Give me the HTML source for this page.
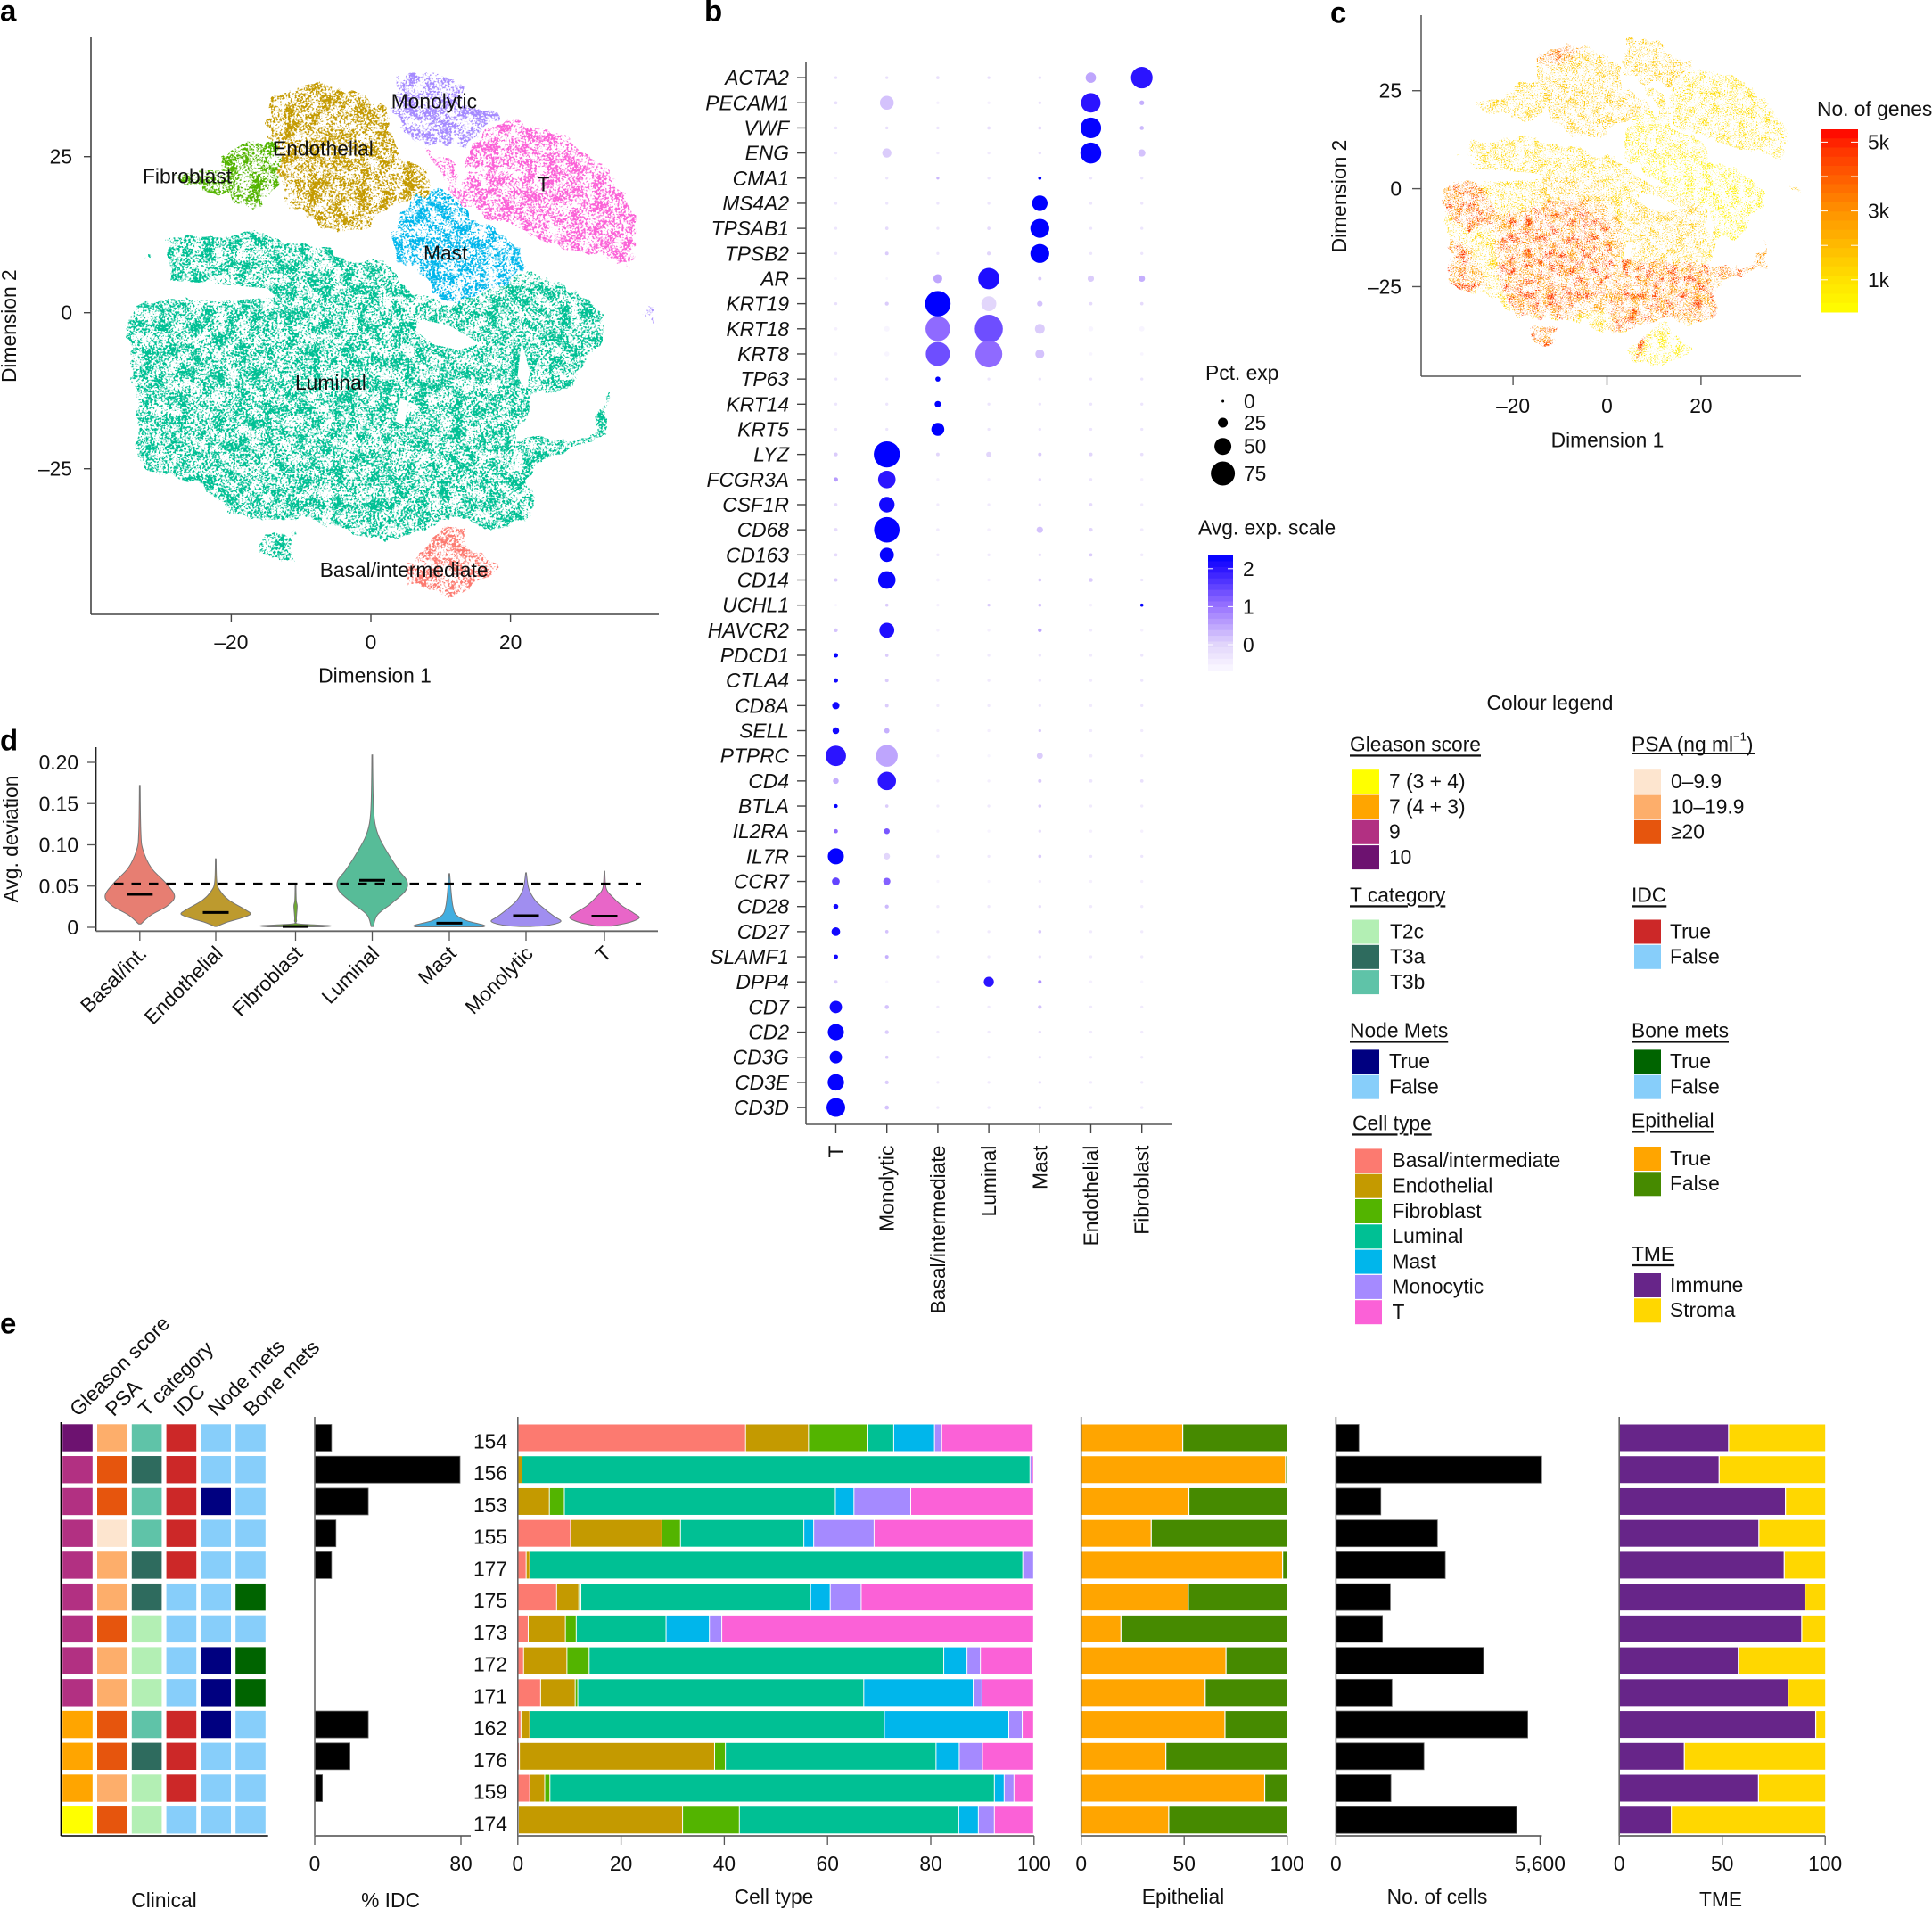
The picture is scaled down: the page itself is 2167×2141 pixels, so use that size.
<!DOCTYPE html>
<html lang="en">
<head>
<meta charset="utf-8">
<title>Single-cell atlas figure</title>
<style>
html,body{margin:0;padding:0;background:#fff;}
svg{display:block;}
text{font-family:"Liberation Sans",Arial,sans-serif;font-size:22.8px;fill:#111;dominant-baseline:central;}
.p{font-weight:bold;font-size:33px;fill:#000;}
.u{text-decoration:underline;}
</style>
</head>
<body>
<svg id="fig" xmlns="http://www.w3.org/2000/svg" width="2167" height="2141" viewBox="0 0 2167 2141">
<defs>
<filter id="speckleA" filterUnits="userSpaceOnUse" x="90" y="30" width="670" height="670" color-interpolation-filters="sRGB">
<feTurbulence type="fractalNoise" baseFrequency="0.07" numOctaves="2" seed="3" result="warp"/>
<feDisplacementMap in="SourceGraphic" in2="warp" scale="16" xChannelSelector="R" yChannelSelector="G" result="rough"/>
<feTurbulence type="fractalNoise" baseFrequency="0.42" numOctaves="2" seed="11" result="grain"/>
<feTurbulence type="fractalNoise" baseFrequency="0.075" numOctaves="2" seed="4" result="blob"/>
<feComposite in="grain" in2="blob" operator="arithmetic" k1="0" k2="0.62" k3="0.38" k4="0" result="mix"/>
<feColorMatrix in="mix" type="matrix" values="0 0 0 0 0 0 0 0 0 0 0 0 0 0 0 0 0 0 10 -4.65" result="mask"/>
<feComposite in="rough" in2="mask" operator="in"/>
</filter>
<filter id="speckleC" filterUnits="userSpaceOnUse" x="1590" y="10" width="440" height="420" color-interpolation-filters="sRGB">
<feTurbulence type="fractalNoise" baseFrequency="0.08" numOctaves="2" seed="5" result="warp"/>
<feDisplacementMap in="SourceGraphic" in2="warp" scale="14" xChannelSelector="R" yChannelSelector="G" result="rough"/>
<feTurbulence type="fractalNoise" baseFrequency="0.7" numOctaves="2" seed="21" result="grain"/>
<feTurbulence type="fractalNoise" baseFrequency="0.1" numOctaves="2" seed="9" result="blob"/>
<feComposite in="grain" in2="blob" operator="arithmetic" k1="0" k2="0.68" k3="0.32" k4="0" result="mix"/>
<feColorMatrix in="mix" type="matrix" values="0 0 0 0 0 0 0 0 0 0 0 0 0 0 0 0 0 0 8 -4.2" result="mask"/>
<feComposite in="rough" in2="mask" operator="in"/>
</filter>
<filter id="speckleHot" filterUnits="userSpaceOnUse" x="1590" y="10" width="440" height="420" color-interpolation-filters="sRGB">
<feTurbulence type="fractalNoise" baseFrequency="0.05" numOctaves="2" seed="14" result="warp"/>
<feDisplacementMap in="SourceGraphic" in2="warp" scale="22" xChannelSelector="R" yChannelSelector="G" result="rough"/>
<feTurbulence type="fractalNoise" baseFrequency="0.75" numOctaves="2" seed="33" result="grain"/>
<feTurbulence type="fractalNoise" baseFrequency="0.11" numOctaves="2" seed="17" result="blob"/>
<feComposite in="grain" in2="blob" operator="arithmetic" k1="0" k2="0.55" k3="0.45" k4="0" result="mix"/>
<feColorMatrix in="mix" type="matrix" values="0 0 0 0 0 0 0 0 0 0 0 0 0 0 0 0 0 0 8 -4.35" result="mask"/>
<feComposite in="rough" in2="mask" operator="in"/>
</filter>
</defs>

<g id="panel-a"></g>
<g id="panel-b"></g>
<g id="panel-c"></g>
<g id="panel-d"></g>
<g id="panel-e"></g>

<g>
<text class="p" x="0" y="12">a</text>
<text class="p" x="790" y="12">b</text>
<text class="p" x="1492" y="14">c</text>
<text class="p" x="0" y="830">d</text>
<text class="p" x="0" y="1484">e</text>
</g>

<g>
<text x="160" y="197.5">Fibroblast</text>
<text x="306" y="166.7">Endothelial</text>
<text x="438.7" y="113.4">Monolytic</text>
<text x="602.5" y="206.5">T</text>
<text x="475" y="283.6">Mast</text>
<text x="331" y="429">Luminal</text>
<text x="358.7" y="639">Basal/intermediate</text>
<text x="420.5" y="757.7" text-anchor="middle">Dimension 1</text>
<text transform="rotate(-90 10 365.7)" x="10" y="365.7" text-anchor="middle">Dimension 2</text>
</g>

<g>
<text x="1803" y="493.5" text-anchor="middle">Dimension 1</text>
<text transform="rotate(-90 1502 220)" x="1502" y="220" text-anchor="middle">Dimension 2</text>
<text x="2038" y="122">No. of genes</text>
</g>

<g>
<text x="1352" y="418">Pct. exp</text>
<text x="1344" y="591.7">Avg. exp. scale</text>
</g>

<g>
<text transform="rotate(-90 12 941)" x="12" y="941" text-anchor="middle">Avg. deviation</text>
</g>

<g>
<text x="184" y="2131" text-anchor="middle">Clinical</text>
<text x="438" y="2131" text-anchor="middle">% IDC</text>
<text x="868" y="2127" text-anchor="middle">Cell type</text>
<text x="1327" y="2127" text-anchor="middle">Epithelial</text>
<text x="1612" y="2127" text-anchor="middle">No. of cells</text>
<text x="1930" y="2130" text-anchor="middle">TME</text>
</g>

<g transform="translate(0,-0.7)">
<text x="1738.5" y="788.7" text-anchor="middle">Colour legend</text>

<text class="u" x="1514" y="835">Gleason score</text>
<g>
<rect x="1517" y="863.9" width="30" height="27" fill="#FFFF00"/><text x="1558" y="876.7">7 (3 + 4)</text>
<rect x="1517" y="892.2" width="30" height="27" fill="#FFA500"/><text x="1558" y="905">7 (4 + 3)</text>
<rect x="1517" y="920.5" width="30" height="27" fill="#B23082"/><text x="1558" y="933.3">9</text>
<rect x="1517" y="948.8" width="30" height="27" fill="#6D1270"/><text x="1558" y="961.6">10</text>
</g>

<text class="u" x="1514" y="1004">T category</text>
<g>
<rect x="1517" y="1032.2" width="30" height="27" fill="#B3EFB4"/><text x="1559" y="1045">T2c</text>
<rect x="1517" y="1060.5" width="30" height="27" fill="#2E6B5E"/><text x="1559" y="1073.3">T3a</text>
<rect x="1517" y="1088.8" width="30" height="27" fill="#5FC3A8"/><text x="1559" y="1101.6">T3b</text>
</g>

<text class="u" x="1514" y="1156">Node Mets</text>
<g>
<rect x="1517" y="1178.1" width="30" height="27" fill="#000080"/><text x="1558" y="1190.9">True</text>
<rect x="1517" y="1206.4" width="30" height="27" fill="#87CEFA"/><text x="1558" y="1219.2">False</text>
</g>

<text class="u" x="1517" y="1260">Cell type</text>
<g>
<rect x="1520" y="1289.1" width="30" height="27" fill="#FC7A70"/><text x="1561.5" y="1301.9">Basal/intermediate</text>
<rect x="1520" y="1317.4" width="30" height="27" fill="#C49A00"/><text x="1561.5" y="1330.2">Endothelial</text>
<rect x="1520" y="1345.7" width="30" height="27" fill="#53B400"/><text x="1561.5" y="1358.5">Fibroblast</text>
<rect x="1520" y="1374" width="30" height="27" fill="#00C094"/><text x="1561.5" y="1386.8">Luminal</text>
<rect x="1520" y="1402.3" width="30" height="27" fill="#00B6EB"/><text x="1561.5" y="1415.1">Mast</text>
<rect x="1520" y="1430.6" width="30" height="27" fill="#A58AFF"/><text x="1561.5" y="1443.4">Monocytic</text>
<rect x="1520" y="1458.9" width="30" height="27" fill="#FB61D7"/><text x="1561.5" y="1471.7">T</text>
</g>

<text x="1830" y="835">PSA (ng ml<tspan dy="-9" font-size="13">−1</tspan><tspan dy="9">)</tspan></text>
<line x1="1830" y1="846" x2="1969" y2="846" stroke="#111" stroke-width="1.4"/>
<g>
<rect x="1833" y="863.9" width="30" height="27" fill="#FDE5CF"/><text x="1874" y="876.7">0–9.9</text>
<rect x="1833" y="892.2" width="30" height="27" fill="#FDAE6B"/><text x="1874" y="905">10–19.9</text>
<rect x="1833" y="920.5" width="30" height="27" fill="#E6550D"/><text x="1874" y="933.3">≥20</text>
</g>

<text class="u" x="1830" y="1004">IDC</text>
<g>
<rect x="1833" y="1032.2" width="30" height="27" fill="#CC2828"/><text x="1873" y="1045">True</text>
<rect x="1833" y="1060.5" width="30" height="27" fill="#87CEFA"/><text x="1873" y="1073.3">False</text>
</g>

<text class="u" x="1830" y="1156">Bone mets</text>
<g>
<rect x="1833" y="1178.1" width="30" height="27" fill="#006400"/><text x="1873" y="1190.9">True</text>
<rect x="1833" y="1206.4" width="30" height="27" fill="#87CEFA"/><text x="1873" y="1219.2">False</text>
</g>

<text class="u" x="1830" y="1257">Epithelial</text>
<g>
<rect x="1833" y="1286.7" width="30" height="27" fill="#FFA500"/><text x="1873" y="1299.5">True</text>
<rect x="1833" y="1315" width="30" height="27" fill="#468A00"/><text x="1873" y="1327.8">False</text>
</g>

<text class="u" x="1830" y="1406.6">TME</text>
<g>
<rect x="1833" y="1428.7" width="30" height="27" fill="#672589"/><text x="1873" y="1441.5">Immune</text>
<rect x="1833" y="1457" width="30" height="27" fill="#FFD700"/><text x="1873" y="1469.8">Stroma</text>
</g>
</g>
</svg>

<script>
/* ---------- shared cell-type palette ---------- */
const cellTypes = ['Basal/intermediate','Endothelial','Fibroblast','Luminal','Mast','Monocytic','T'];
const cellColors = ['#FC7A70','#C49A00','#53B400','#00C094','#00B6EB','#A58AFF','#FB61D7'];

/* ---------- t-SNE cluster regions (data units, Dimension 1, Dimension 2) ---------- */
const regionEndothelial = [[-13.5,34.8],[-8.6,36.9],[-3.6,35.5],[-.5,34],[2,33],[2.9,28.7],[4.5,24.5],[7.9,23],[8.8,19.5],[4.5,17.4],[1.4,16],[-.5,13.5],[-3.6,13.1],[-7.3,13.8],[-9.8,16],[-12,17.4],[-12.9,21.6],[-14.2,25.2],[-15.1,30.9]];
const regionFibroblast = [[-28.5,22.2],[-21.6,23],[-21,25.2],[-17.3,27.3],[-13.5,27.3],[-12.9,22.7],[-13.5,20.2],[-15.4,17.4],[-17.9,17],[-20.4,18.8],[-22.9,19.3],[-26,20]];
const regionMonolytic = [[3.7,37.9],[7.9,38.7],[12,37.3],[14.1,33.3],[18.8,31.9],[15,28.7],[13.1,25.9],[11.2,27.3],[8.2,26.6],[6.3,28.1],[4.5,29.4],[2.9,33],[4.5,35.8]];
const regionMonolyticIslet = [[39.3,1.1],[40.5,1.1],[40.4,-1.4],[39.3,0]];
const regionT = [[19.4,30.9],[27.5,28.4],[29.3,27],[34.9,21.3],[38,15.6],[37.7,8.2],[36.8,7.4],[32.4,9.6],[27.5,9.9],[24.3,11.7],[20.9,13.8],[16.8,15.2],[12.9,17.4],[13.5,24.5],[15,28]];
const regionTSmall = [[8,26],[12,24],[13,18],[11,20],[9.5,23.5]];
const regionMast = [[8.8,19.9],[12.5,18.8],[13.8,15.2],[17.5,13.8],[21.2,10.3],[21.9,7.4],[19.4,4.6],[15,3.2],[12.5,1.4],[8.8,3.2],[7.6,6],[3.9,8.2],[2.9,11.7],[4.5,15.9],[7,18.8]];
const regionBasal = [[11.3,-34],[13.5,-34.4],[14.1,-38],[16,-38.7],[18.1,-40.8],[16.9,-42.6],[13.2,-44.3],[10.1,-45.4],[7.9,-43.6],[5.4,-43.6],[4.8,-40.8],[7.9,-38.3],[9.5,-35.8]];
const regionLuminal = [[-29.4,11.7],[-21,12.4],[-16.6,13.3],[-12.3,11.3],[-5.5,9.9],[-3,8.2],[1.4,8.5],[2.9,7.4],[4.5,4.6],[7,2.5],[11.3,1.1],[15,2.8],[19.4,4.6],[22.2,7.1],[27.5,4.6],[31.2,1.8],[33.4,-.4],[33.4,-4.6],[30.6,-7.4],[28.7,-11.7],[26.8,-12.8],[23.4,-12.4],[22.8,-16.7],[21.2,-18.1],[20.9,-20.9],[24.3,-24.1],[22.2,-27],[23.7,-30.1],[22.2,-33],[16.9,-34.8],[13.8,-33],[11.3,-33],[7.6,-34.4],[3.2,-36.7],[-1.7,-36.2],[-4.2,-34],[-9.8,-33],[-17.3,-33],[-21.6,-30.9],[-24.1,-27.3],[-30.9,-26.2],[-33.7,-23],[-33.1,-16],[-34.3,-8.9],[-34.3,-6],[-35.2,-2.1],[-33.4,1.4],[-26,1.8],[-28.8,6]];
const regionLuminalIsland = [[-15.1,-35.5],[-11.1,-35.5],[-12,-37.9],[-10.8,-39.7],[-13.5,-39.7],[-16,-38.3]];
const regionLuminalTail = [[34,-13],[33.7,-16],[33.4,-18.4],[34,-19.9],[30,-20.9],[27.5,-22.3],[25,-23.4],[24,-24.1],[21.5,-22.3],[21.2,-20.2],[25,-19.9],[29.3,-20.2],[32.4,-18.8],[32,-17],[33.4,-15],[33.7,-13]];
const regionLuminalIslet = [[-32.2,9.2],[-31.2,8.9],[-31.6,8.2],[-32.6,8.6]];
const gapRegions = [
  [[7.3,-1.1],[11.3,-2.1],[15.7,-4.96],[12.5,-6],[8.8,-5],[6.3,-2.8]],
  [[21.6,-4.6],[22.8,-9.6],[22.2,-12.4],[21,-10.2]],
  [[-30,5.3],[-22.2,4.6],[-14.8,3.9],[-13.5,2.5],[-22.2,1.8],[-26,2.1]],
  [[4.2,-13.8],[5.4,-14.2],[4.8,-18.1],[3.5,-17.4]]
];
const clusterRegions = [regionLuminal,regionLuminalIsland,regionLuminalTail,regionLuminalIslet,regionBasal,regionEndothelial,regionFibroblast,regionT,regionTSmall,regionMonolytic,regionMonolyticIslet,regionMast];
const clusterIndex = [3,3,3,3,0,1,2,6,6,5,5,4];
const clusterNames = ['luminal','luminal-island','luminal-tail','luminal-islet','basal','endothelial','fibroblast','t','t-small','monolytic','monolytic-islet','mast'];
const clusterGenes = [1300,3000,3000,1000,900,1700,1500,1100,1300,1700,1800,800];

/* gene-count zones of panel c, typical genes per zone */
const zoneGenes = [3000,3000,2800,2800,1700,2600,500,3000,600,1800];
const zoneRegions = [
  [[-15.5,33],[-14,36],[-9,37.6],[-4,36],[-8,33],[-13,31]],
  [[-35.5,3.6],[-28,3],[-24,-5],[-22,-10],[-30,-10],[-35.5,-5]],
  [[-24,-8],[-15,-4],[-4,-2],[3,-8],[3,-24],[1,-30],[-8,-33],[-20,-32],[-24,-20]],
  [[-34.5,-12],[-30,-14],[-25,-25],[-32,-26],[-34.5,-20]],
  [[3,-4],[20,-4],[20,-18],[5,-20]],
  [[4,-18],[24,-19],[24,-34],[10,-34],[0,-37],[0,-28]],
  [[6,8],[22,8],[34,2],[34,-12],[24,-14],[21,-4],[12,0]],
  [[21,-19],[34,-17],[34,-21],[25,-25]],
  [[8.5,-38],[16,-38],[18,-41],[14,-46],[9,-46]],
  [[3,-5],[-3,3],[-14,3],[-16,-3],[-5,-3]]
];
/* high-count cells that sit on top of the zones */
const hotGenes = [4300,4900,4900,4900,4700,4600,4600,4500];
const hotRegions = [
  [[-15.5,33],[-14,36],[-9,37.6],[-6,35.5],[-12,32]],
  [[-35.5,3.6],[-28,3],[-24,-5],[-24,-10],[-30,-10],[-35.5,-5]],
  [[-22,-8],[-15,-4],[-6,-3],[0,-8],[1,-24],[-4,-28],[-10,-33],[-20,-32],[-24,-20]],
  [[-34.5,-12],[-31,-14],[-27,-25],[-32,-26],[-34.5,-20]],
  [[4,-18],[22,-20],[24,-32],[12,-34],[2,-36],[0,-28]],
  [[21,-19],[32,-17.5],[32,-21],[25,-25]],
  [[3,-38],[9,-38],[6,-44],[3.5,-44]],
  [[-16,-35],[-10,-35],[-10,-40],[-16,-40]]
];

/* ---------- panel b ---------- */
const genes = ['ACTA2','PECAM1','VWF','ENG','CMA1','MS4A2','TPSAB1','TPSB2','AR','KRT19','KRT18','KRT8','TP63','KRT14','KRT5','LYZ','FCGR3A','CSF1R','CD68','CD163','CD14','UCHL1','HAVCR2','PDCD1','CTLA4','CD8A','SELL','PTPRC','CD4','BTLA','IL2RA','IL7R','CCR7','CD28','CD27','SLAMF1','DPP4','CD7','CD2','CD3G','CD3E','CD3D'];
const dotCategories = ['T','Monolytic','Basal/intermediate','Luminal','Mast','Endothelial','Fibroblast'];
const pctExp = [
[1,1,2,1,1,27,66],[2,39,1,1,1,59,7],[1,1,1,2,2,63,5],[1,23,1,1,1,64,16],[0,1,1,1,2,1,1],[1,1,1,1,45,1,1],[1,2,1,2,57,1,1],[1,3,1,4,57,1,1],
[0,0,22,65,3,13,13],[1,4,80,43,10,2,2],[2,10,77,89,25,8,9],[2,8,75,85,22,2,2],[1,1,8,1,1,1,1],[1,1,13,1,1,1,1],[1,1,36,1,1,1,1],
[4,82,3,9,3,3,2],[6,52,1,1,1,1,1],[2,45,1,1,1,2,1],[3,80,2,2,13,4,2],[2,40,1,1,1,2,1],[3,52,2,1,2,5,1],[0,2,1,1,2,1,2],[4,43,1,1,4,1,1],
[6,2,1,1,1,1,1],[6,3,1,1,1,1,1],[16,3,1,1,1,1,1],[14,9,1,1,1,1,1],[62,67,1,1,12,2,1],[11,55,1,1,3,2,2],[4,2,1,1,2,1,1],[5,11,1,1,1,1,1],
[47,13,2,1,2,1,1],[18,16,1,1,1,1,1],[8,4,1,1,1,1,1],[21,2,1,1,2,1,1],[6,3,1,1,1,1,1],[3,1,1,26,3,1,1],[34,5,1,1,4,1,1],[47,4,1,1,1,1,1],
[34,2,1,1,1,1,1],[48,4,1,1,1,1,1],[56,5,1,1,1,1,1]];
const avgExp = [
[-.2,-.2,-.2,-.2,-.2,.5,2],[-.2,.2,-.5,-.5,-.2,2,.4],[-.3,-.2,-.3,-.2,-.1,2.3,.3],[-.3,.1,-.4,-.4,-.2,2.3,.2],[-.5,-.3,.3,-.3,2.34,-.3,-.3],[-.3,-.3,-.3,-.3,2.34,-.3,-.3],[-.3,-.1,-.3,-.1,2.34,-.3,-.3],[-.3,.1,-.3,0,2.34,-.3,-.3],
[-.6,-.6,.5,2.1,.1,.1,.4],[-.2,.1,2.34,0,.2,-.1,-.1],[-.5,-.6,1.1,1.4,.1,-.6,-.6],[-.5,-.6,1.4,1.1,.2,-.6,-.6],[-.3,-.3,2.34,-.3,-.3,-.3,-.3],[-.3,-.3,2.34,-.3,-.3,-.3,-.3],[-.3,-.3,2.34,-.3,-.3,-.3,-.3],
[.1,2.34,0,0,.1,0,-.2],[.6,2,-.5,-.5,-.1,-.3,-.5],[-.1,2.2,-.4,-.4,-.2,-.1,-.4],[-.1,2.3,-.4,-.5,.2,0,-.4],[-.1,2.3,-.4,-.4,-.2,.1,-.4],[.1,2.25,-.5,-.5,.1,.1,-.3],[-.6,.1,-.5,.1,.2,-.5,2.3],[.2,2.1,-.5,-.5,.5,-.4,-.5],
[2.3,.1,-.4,-.4,-.3,-.4,-.3],[2.2,.1,-.4,-.4,-.3,-.4,-.3],[2.2,.1,-.4,-.4,-.3,-.4,-.3],[2.2,.4,-.5,-.5,.1,-.4,-.4],[2,.5,-.5,-.6,.1,-.4,-.4],[.4,2,-.5,-.5,.1,-.3,-.2],[2.3,.1,-.4,-.4,.1,-.4,-.4],[1.1,1.3,-.6,-.6,-.2,-.5,-.5],
[2.3,0,-.3,-.4,.1,-.3,-.3],[1.5,1.2,-.6,-.6,-.4,-.5,-.5],[2.2,.3,-.4,-.4,-.2,-.4,-.4],[2.2,.2,-.4,-.4,.1,-.4,-.4],[2.2,.4,-.4,-.4,-.2,-.4,-.4],[.1,-.6,-.5,2,.7,-.5,-.6],[2.2,.2,-.4,-.4,.2,-.4,-.4],[2.3,.1,-.4,-.4,-.2,-.4,-.4],
[2.3,.1,-.4,-.4,-.2,-.4,-.4],[2.3,.1,-.4,-.4,-.2,-.4,-.4],[2.3,.2,-.4,-.4,-.2,-.4,-.4]];
const pctLegendValues = [0,25,50,75];
const expTickValues = [2,1,0];
const geneTickValues = [5000,4000,3000,2000,1000];
const geneTickLabels = ['5k','','3k','','1k'];

/* ---------- panel d ---------- */
const violinNames = ['Basal/int.','Endothelial','Fibroblast','Luminal','Mast','Monolytic','T'];
const violinFill = ['#E77E72','#BD9A2E','#6EAB2E','#57BC98','#42AEE0','#A08EF0','#E866C8'];
const violinMedian = [.04,.018,.001,.057,.005,.014,.0135];
const deviationThreshold = [.0525];
const devTicks = [0,.05,.10,.15,.20];
const devTickLabels = ['0','0.05','0.10','0.15','0.20'];
const violinValues = [
[.172,.115,.094,.072,.054,.038,.026,.015,.004],
[.083,.055,.044,.033,.022,.016,.011,.006,.001],
[.053,.033,.026,.015,.008,.004,.002,.0005],
[.209,.151,.126,.108,.087,.069,.056,.044,.029,.015,.001],
[.065,.044,.026,.015,.008,.0025,.0005],
[.066,.047,.033,.022,.013,.007,.0025,.001],
[.068,.047,.037,.026,.017,.0115,.006,.0015]];
const violinDensity = [
[1,3,9,33,74,100,79,33,3],
[1,3,13,38,82,100,72,31,3],
[1,2,5,3,3,10,100,77],
[1,3,8,21,49,77,100,95,56,15,3],
[1,5,10,20,50,100,97],
[1,8,26,54,82,100,64,15],
[1,5,23,51,85,100,72,21]];

/* ---------- panel e ---------- */
const samples = ['154','156','153','155','177','175','173','172','171','162','176','159','174'];
const gleason = ['10','9','9','9','9','9','9','9','9','7b','7b','7b','7a'];
const psaClass = ['mid','high','high','low','mid','mid','high','mid','mid','high','high','mid','high'];
const tCategory = ['T3b','T3a','T3b','T3b','T3a','T3a','T2c','T2c','T2c','T3b','T3a','T2c','T2c'];
const idcFlag = [1,1,1,1,1,0,0,0,0,1,1,1,0];
const nodeFlag = [0,0,1,0,0,0,0,1,1,1,0,0,0];
const boneFlag = [0,0,0,0,0,1,0,1,1,0,0,0,0];
const clinicalHeaders = ['Gleason score','PSA','T category','IDC','Node mets','Bone mets'];
const pctIdc = [9.2,79.5,29.3,11.6,9.2,0,0,0,0,29.3,19.3,4.2,0];
const cellTypeShare = [
[44.2,12.2,11.5,5,7.9,1.4,17.7],
[0,.9,0,98.4,0,.4,.3],
[0,6.2,2.9,52.5,3.6,11,23.8],
[10.3,17.7,3.6,23.9,1.9,11.7,30.9],
[1.7,.7,0,95.5,0,2.1,0],
[7.6,4.3,.4,44.5,3.8,6,33.4],
[2.1,7.2,2.1,17.4,8.4,2.4,60.4],
[1.2,8.4,4.3,68.7,4.5,2.6,10],
[4.5,6.7,.5,55.4,21.2,1.7,10],
[.7,1.7,0,68.7,24.1,2.6,2.2],
[.4,37.8,2.1,40.8,4.5,4.5,9.9],
[2.4,2.9,1,86.1,1.9,1.9,3.8],
[.2,31.8,11,42.5,3.8,3.1,7.6]];
const epithelialTrue = [49.3,99.2,52.3,34,97.8,52,19.3,70.3,60.2,69.8,41.1,89.1,42.5];
const cellCounts = [631,5646,1231,2785,3000,1492,1277,4046,1538,5262,2415,1508,4954];
const immuneShare = [53.1,48.5,80.7,67.8,80.1,90.2,88.6,57.8,82,95.4,31.6,67.6,25.3];
const pctTicks = [0,50,100];
const cellTypeTicks = [0,20,40,60,80,100];
const idcTicks = [0,80];
const countTicks = [0,5600];
const countTickLabels = ['0','5,600'];

/* ---------- axis functions ---------- */
const aX = v => 416 + 7.83 * v;
const aY = v => 350.7 - 7.0 * v;
const cX = v => 1802.5 + 5.27 * v;
const cY = v => 211.6 - 4.395 * v;
const dotRow = i => 87.1 + 28.17 * i;
const dotCol = j => 937.5 + 57.2 * j;
const dotDiameter = p => 3 + 0.32 * p;
const dY = v => 1040 - 925 * v;
const violinCenter = i => [156.8,242,331.5,417.5,504,590,678][i];
const rowY = i => 1612.5 + 35.73 * i;
const idcX = v => 353 + 2.05 * v;
const typeX = v => 580.8 + 5.79 * v;
const epiX = v => 1212.7 + 2.31 * v;
const countX = v => 1498.4 + v * 229 / 5600;
const tmeX = v => 1816.2 + 2.31 * v;
const geneBarY = v => 313.8 - (v - 1000) * 0.0386;
const expBarY = v => 723 - 42.6 * v;

/* ---------- helpers ---------- */
const NS = 'http://www.w3.org/2000/svg';
function mk(tag, attrs, parent) {
  const el = document.createElementNS(NS, tag);
  for (const k in attrs) el.setAttribute(k, attrs[k]);
  parent.appendChild(el);
  return el;
}
function named(el, name, click) {
  
  
  return el;
}
function hex(c) { return [parseInt(c.slice(1,3),16),parseInt(c.slice(3,5),16),parseInt(c.slice(5,7),16)]; }
function ramp(stops, v) {
  if (v <= stops[0][0]) return stops[0][1];
  for (let i = 1; i < stops.length; i++) {
    if (v <= stops[i][0]) {
      const t = (v - stops[i-1][0]) / (stops[i][0] - stops[i-1][0]);
      const a = hex(stops[i-1][1]), b = hex(stops[i][1]);
      return 'rgb(' + a.map((x,n) => Math.round(x + (b[n]-x)*t)).join(',') + ')';
    }
  }
  return stops[stops.length-1][1];
}
const expStops = [[-.67,'#FBF9FF'],[0,'#E2D6FB'],[1,'#9A74FF'],[2,'#2B14FF'],[2.34,'#0000FF']];
const geneStops = [[0,'#FFFF00'],[1000,'#FFE100'],[3000,'#FF9600'],[5000,'#FF3200'],[5600,'#FF0000']];
const pts = (poly, fx, fy) => poly.map(p => fx(p[0]).toFixed(1) + ',' + fy(p[1]).toFixed(1)).join(' ');
function line(parent, x1, y1, x2, y2, color, w, name) {
  const el = mk('line', {x1:x1, y1:y1, x2:x2, y2:y2, stroke:color, 'stroke-width':w}, parent);
  named(el, name);
  return el;
}
function label(parent, str, x, y, anchor, name, extra) {
  const el = mk('text', Object.assign({x:x, y:y, 'text-anchor':anchor}, extra || {}), parent);
  el.textContent = str;
  named(el, name);
  return el;
}

/* ---------- panel a ---------- */
(function () {
  const g = document.getElementById('panel-a');
  const cloud = named(mk('g', {filter:'url(#speckleA)'}, g), 'cell-scatter');
  clusterRegions.forEach((poly, i) => {
    const p = mk('polygon', {points:pts(poly, aX, aY), fill:cellColors[clusterIndex[i]]}, cloud);
    named(p, 'cluster-' + clusterNames[i]);
  });
  gapRegions.forEach(poly => {
    const p = mk('polygon', {points:pts(poly, aX, aY), fill:'#fff'}, g);
    named(p, 'cluster-gap');
  });
  line(g, 102, 41, 102, 689, '#444', 1.6, 'a-y-axis');
  line(g, 102, 689, 739, 689, '#444', 1.6, 'a-x-axis');
  [-20,0,20].forEach((v, i) => {
    line(g, aX(v), 689, aX(v), 698, '#444', 1.4, 'a-x-tick');
    label(g, ['–20','0','20'][i], aX(v), 720, 'middle', 'a-x-tick-label');
  });
  [25,0,-25].forEach((v, i) => {
    line(g, 94, aY(v), 102, aY(v), '#444', 1.4, 'a-y-tick');
    label(g, ['25','0','–25'][i], 81, aY(v), 'end', 'a-y-tick-label');
  });
})();

/* ---------- panel c ---------- */
(function () {
  const g = document.getElementById('panel-c');
  const clip = mk('clipPath', {id:'silhouette'}, g);
  clusterRegions.forEach(poly => { mk('polygon', {points:pts(poly, cX, cY)}, clip); });
  const cloud = named(mk('g', {filter:'url(#speckleC)'}, g), 'gene-scatter');
  clusterRegions.forEach((poly, i) => {
    const p = mk('polygon', {points:pts(poly, cX, cY), fill:ramp(geneStops, clusterGenes[i])}, cloud);
    named(p, 'gene-region-' + clusterNames[i]);
  });
  const zones = named(mk('g', {'clip-path':'url(#silhouette)'}, cloud), 'gene-zones');
  zoneRegions.forEach((poly, i) => {
    const p = mk('polygon', {points:pts(poly, cX, cY), fill:ramp(geneStops, zoneGenes[i])}, zones);
    named(p, 'gene-zone');
  });
  const hotCloud = named(mk('g', {filter:'url(#speckleHot)'}, g), 'gene-high-count-scatter');
  const hot = named(mk('g', {'clip-path':'url(#silhouette)'}, hotCloud), 'gene-high-count-areas');
  hotRegions.forEach((poly, i) => {
    const p = mk('polygon', {points:pts(poly, cX, cY), fill:ramp(geneStops, hotGenes[i])}, hot);
    named(p, 'gene-high-count-area');
  });
  gapRegions.forEach(poly => {
    const p = mk('polygon', {points:pts(poly, cX, cY), fill:'#fff'}, g);
    named(p, 'gene-gap');
  });
  line(g, 1594, 17, 1594, 422, '#555', 1.5, 'c-y-axis');
  line(g, 1594, 422, 2020, 422, '#555', 1.5, 'c-x-axis');
  [-20,0,20].forEach((v, i) => {
    line(g, cX(v), 422, cX(v), 432, '#555', 1.4, 'c-x-tick');
    label(g, ['–20','0','20'][i], cX(v), 455, 'middle', 'c-x-tick-label');
  });
  [25,0,-25].forEach((v, i) => {
    line(g, 1584, cY(v), 1594, cY(v), '#555', 1.4, 'c-y-tick');
    label(g, ['25','0','–25'][i], 1572, cY(v), 'end', 'c-y-tick-label');
  });
  const bar = named(mk('g', {}, g), 'gene-colorbar');
  const top = 145, h = 205, bands = 20;
  for (let i = 0; i < bands; i++) {
    const v = 5600 * (1 - (i + .5) / bands);
    const r = mk('rect', {x:2042, y:top + h * i / bands, width:42, height:h / bands + .5, fill:ramp(geneStops, v)}, bar);
    named(r, 'gene-colorbar-band');
  }
  geneTickValues.forEach((v, i) => {
    line(bar, 2042, geneBarY(v), 2050, geneBarY(v), '#fff', 1, 'gene-colorbar-tick');
    line(bar, 2076, geneBarY(v), 2084, geneBarY(v), '#fff', 1, 'gene-colorbar-tick');
    if (geneTickLabels[i]) label(bar, geneTickLabels[i], 2095, geneBarY(v), 'start', 'gene-colorbar-label');
  });
})();

/* ---------- panel b ---------- */
(function () {
  const g = document.getElementById('panel-b');
  line(g, 904, 70, 904, 1261, '#777', 2, 'b-y-axis');
  line(g, 904, 1261, 1315, 1261, '#555', 1.5, 'b-x-axis');
  genes.forEach((name, i) => {
    line(g, 894, dotRow(i), 904, dotRow(i), '#444', 1.4, 'b-y-tick');
    label(g, name, 885, dotRow(i), 'end', 'gene-label', {'font-style':'italic'});
  });
  dotCategories.forEach((name, j) => {
    line(g, dotCol(j), 1261, dotCol(j), 1271, '#444', 1.4, 'b-x-tick');
    const x = dotCol(j), y = 1284.6;
    label(g, name, x, y, 'end', 'b-category-label', {transform:'rotate(-90 ' + x + ' ' + y + ')'});
  });
  genes.forEach((name, i) => {
    dotCategories.forEach((cat, j) => {
      const d = dotDiameter(pctExp[i][j]);
      const c = mk('circle', {cx:dotCol(j), cy:dotRow(i), r:(d / 2).toFixed(2), fill:ramp(expStops, avgExp[i][j])}, g);
      named(c, 'dot-' + name.toLowerCase());
    });
  });
  pctLegendValues.forEach((v, i) => {
    const y = [450,474,500.7,531][i];
    const c = mk('circle', {cx:1371.6, cy:y, r:dotDiameter(v) / 2, fill:'#000'}, g);
    named(c, 'pct-legend-dot');
    label(g, String(v), 1395, y, 'start', 'pct-legend-label');
  });
  const bar = named(mk('g', {}, g), 'exp-colorbar');
  const top = 623, h = 128.7, bands = 20;
  for (let i = 0; i < bands; i++) {
    const v = 2.34 - 3.01 * (i + .5) / bands;
    const r = mk('rect', {x:1355, y:top + h * i / bands, width:28, height:h / bands + .4, fill:ramp(expStops, v)}, bar);
    named(r, 'exp-colorbar-band');
  }
  expTickValues.forEach(v => {
    line(bar, 1355, expBarY(v), 1361, expBarY(v), '#fff', 1, 'exp-colorbar-tick');
    line(bar, 1377, expBarY(v), 1383, expBarY(v), '#fff', 1, 'exp-colorbar-tick');
    label(bar, String(v), 1394, expBarY(v), 'start', 'exp-colorbar-label');
  });
})();

/* ---------- panel d ---------- */
function smoothSide(points) {
  let d = '';
  for (let i = 0; i < points.length - 1; i++) {
    const p0 = points[Math.max(0, i-1)], p1 = points[i], p2 = points[i+1], p3 = points[Math.min(points.length-1, i+2)];
    const c1 = [p1[0] + (p2[0]-p0[0]) / 6, p1[1] + (p2[1]-p0[1]) / 6];
    const c2 = [p2[0] - (p3[0]-p1[0]) / 6, p2[1] - (p3[1]-p1[1]) / 6];
    d += 'C' + c1[0].toFixed(1) + ' ' + c1[1].toFixed(1) + ' ' + c2[0].toFixed(1) + ' ' + c2[1].toFixed(1) + ' ' + p2[0].toFixed(1) + ' ' + p2[1].toFixed(1);
  }
  return d;
}
(function () {
  const g = document.getElementById('panel-d');
  violinNames.forEach((name, i) => {
    const cx = violinCenter(i);
    const right = violinValues[i].map((v, k) => [cx + violinDensity[i][k] * .39, dY(v)]);
    const left = violinValues[i].map((v, k) => [cx - violinDensity[i][k] * .39, dY(v)]).reverse();
    const d = 'M' + right[0][0] + ' ' + right[0][1] + smoothSide(right) + 'L' + left[0][0] + ' ' + left[0][1] + smoothSide(left) + 'Z';
    const p = mk('path', {d:d, fill:violinFill[i], stroke:'#777', 'stroke-width':1}, g);
    named(p, 'violin-' + name.toLowerCase().replace(/[^a-z]/g, ''));
    line(g, cx - 14.5, dY(violinMedian[i]), cx + 14.5, dY(violinMedian[i]), '#000', 3, 'violin-median');
  });
  const th = line(g, 128, dY(deviationThreshold[0]), 719, dY(deviationThreshold[0]), '#000', 3.2, 'threshold-line');
  th.setAttribute('stroke-dasharray', '10.5 9');
  line(g, 107.7, 838, 107.7, 1044.3, '#222', 1.4, 'd-y-axis');
  line(g, 107.7, 1044.3, 738, 1044.3, '#666', 1.8, 'd-x-axis');
  devTicks.forEach((v, i) => {
    line(g, 98, dY(v), 107.7, dY(v), '#555', 1.3, 'd-y-tick');
    label(g, devTickLabels[i], 88, dY(v), 'end', 'd-y-tick-label');
  });
  violinNames.forEach((name, i) => {
    const x = violinCenter(i);
    line(g, x, 1044.3, x, 1055, '#555', 1.3, 'd-x-tick');
    const lx = x + 3.5, ly = 1065;
    label(g, name, lx, ly, 'end', 'd-x-tick-label', {transform:'rotate(-45 ' + lx + ' ' + ly + ')'});
  });
})();

/* ---------- panel e ---------- */
(function () {
  const g = document.getElementById('panel-e');
  const H = 30;
  const clinColors = {
    gleason:{'10':'#6D1270','9':'#B23082','7b':'#FFA500','7a':'#FFFF00'},
    psa:{low:'#FDE5CF',mid:'#FDAE6B',high:'#E6550D'},
    t:{T2c:'#B3EFB4',T3a:'#2E6B5E',T3b:'#5FC3A8'},
    idc:['#87CEFA','#CC2828'], node:['#87CEFA','#000080'], bone:['#87CEFA','#006400']
  };
  const colX = k => 70.2 + 38.8 * k;
  samples.forEach((s, i) => {
    const row = [clinColors.gleason[gleason[i]], clinColors.psa[psaClass[i]], clinColors.t[tCategory[i]], clinColors.idc[idcFlag[i]], clinColors.node[nodeFlag[i]], clinColors.bone[boneFlag[i]]];
    row.forEach((c, k) => {
      const r = mk('rect', {x:colX(k), y:rowY(i) - 15.2, width:33.6, height:30.4, fill:c}, g);
      named(r, 'clinical-cell-' + s);
    });
  });
  clinicalHeaders.forEach((h, k) => {
    const x = [82,122,159,198,237,277][k], y = 1584;
    label(g, h, x, y, 'start', 'clinical-header', {transform:'rotate(-45 ' + x + ' ' + y + ')'});
  });
  line(g, 68.4, 1595, 68.4, 2059, '#000', 1.5, 'clinical-y-axis');
  line(g, 68.4, 2059, 300.7, 2059, '#000', 1.5, 'clinical-x-axis');

  samples.forEach((s, i) => {
    if (pctIdc[i] > 0) {
      const r = mk('rect', {x:idcX(0), y:rowY(i) - H/2, width:idcX(pctIdc[i]) - idcX(0), height:H, fill:'#000', stroke:'#666', 'stroke-width':.8}, g);
      named(r, 'idc-bar-' + s);
    }
    label(g, s, 569, rowY(i) + 4, 'end', 'sample-label');

    let acc = 0;
    cellTypeShare[i].forEach((v, k) => {
      if (v > 0) {
        const w = typeX(acc + v) - typeX(acc);
        const r = mk('rect', {x:typeX(acc), y:rowY(i) - H/2, width:Math.max(w - 1, .5), height:H, fill:cellColors[k]}, g);
        named(r, 'cell-type-bar-' + s);
      }
      acc += v;
    });

    const e1 = mk('rect', {x:epiX(0), y:rowY(i) - H/2, width:Math.max(epiX(epithelialTrue[i]) - epiX(0) - .6, 0), height:H, fill:'#FFA500'}, g);
    named(e1, 'epithelial-true-bar-' + s);
    const e2 = mk('rect', {x:epiX(epithelialTrue[i]) + .6, y:rowY(i) - H/2, width:Math.max(epiX(100) - epiX(epithelialTrue[i]) - .6, 0), height:H, fill:'#468A00'}, g);
    named(e2, 'epithelial-false-bar-' + s);

    const c = mk('rect', {x:countX(0), y:rowY(i) - H/2, width:countX(cellCounts[i]) - countX(0), height:H, fill:'#000', stroke:'#666', 'stroke-width':.8}, g);
    named(c, 'cell-count-bar-' + s);

    const t1 = mk('rect', {x:tmeX(0), y:rowY(i) - H/2, width:tmeX(immuneShare[i]) - tmeX(0) - .6, height:H, fill:'#672589'}, g);
    named(t1, 'tme-immune-bar-' + s);
    const t2 = mk('rect', {x:tmeX(immuneShare[i]) + .6, y:rowY(i) - H/2, width:tmeX(100) - tmeX(immuneShare[i]) - .6, height:H, fill:'#FFD700'}, g);
    named(t2, 'tme-stroma-bar-' + s);
  });

  function axis(fn, ticks, labels, left, right, name) {
    line(g, left, 1589, left, 2059, '#666', 1.6, name + '-y-axis');
    line(g, left, 2059, right, 2059, '#777', 2, name + '-x-axis');
    ticks.forEach((v, i) => {
      line(g, fn(v), 2059, fn(v), 2069, '#555', 1.3, name + '-tick');
      label(g, labels[i], fn(v), 2090, 'middle', name + '-tick-label');
    });
  }
  axis(idcX, idcTicks, idcTicks.map(String), idcX(0), 528, 'idc');
  axis(typeX, cellTypeTicks, cellTypeTicks.map(String), typeX(0), typeX(100), 'cell-type');
  axis(epiX, pctTicks, pctTicks.map(String), epiX(0), epiX(100), 'epithelial');
  axis(countX, countTicks, countTickLabels, countX(0), countX(5600) + 2, 'cell-count');
  axis(tmeX, pctTicks, pctTicks.map(String), tmeX(0), tmeX(100), 'tme');
})();
</script>
</body>
</html>
